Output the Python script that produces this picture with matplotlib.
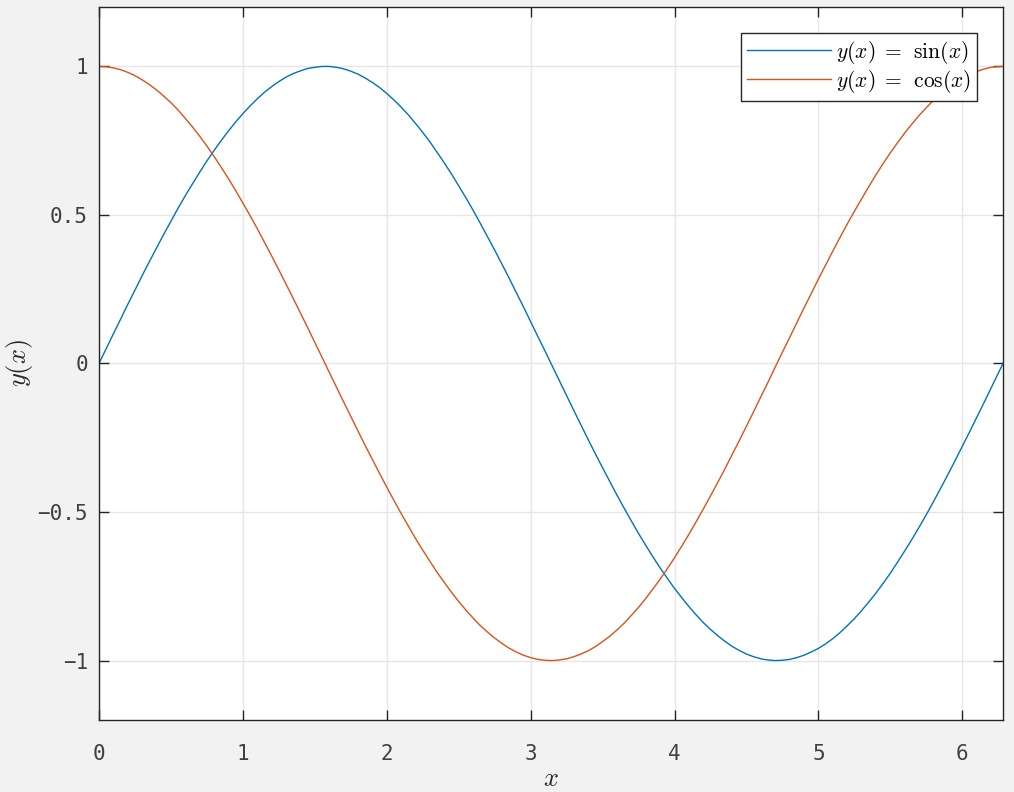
import matplotlib
matplotlib.use("Agg")
import matplotlib.pyplot as plt
from matplotlib.ticker import FixedLocator

x_vals = [0.00, 0.05, 0.10, 0.15, 0.20, 0.25, 0.30, 0.35, 0.40, 0.45,
          0.50, 0.55, 0.60, 0.65, 0.70, 0.75, 0.80, 0.85, 0.90, 0.95,
          1.00, 1.05, 1.10, 1.15, 1.20, 1.25, 1.30, 1.35, 1.40, 1.45,
          1.50, 1.55, 1.60, 1.65, 1.70, 1.75, 1.80, 1.85, 1.90, 1.95,
          2.00, 2.05, 2.10, 2.15, 2.20, 2.25, 2.30, 2.35, 2.40, 2.45,
          2.50, 2.55, 2.60, 2.65, 2.70, 2.75, 2.80, 2.85, 2.90, 2.95,
          3.00, 3.05, 3.10, 3.15, 3.20, 3.25, 3.30, 3.35, 3.40, 3.45,
          3.50, 3.55, 3.60, 3.65, 3.70, 3.75, 3.80, 3.85, 3.90, 3.95,
          4.00, 4.05, 4.10, 4.15, 4.20, 4.25, 4.30, 4.35, 4.40, 4.45,
          4.50, 4.55, 4.60, 4.65, 4.70, 4.75, 4.80, 4.85, 4.90, 4.95,
          5.00, 5.05, 5.10, 5.15, 5.20, 5.25, 5.30, 5.35, 5.40, 5.45,
          5.50, 5.55, 5.60, 5.65, 5.70, 5.75, 5.80, 5.85, 5.90, 5.95,
          6.00, 6.05, 6.10, 6.15, 6.20, 6.25, 6.283]

sin_vals = [0.000, 0.050, 0.100, 0.149, 0.199, 0.247, 0.296, 0.343, 0.389, 0.435,
            0.479, 0.523, 0.565, 0.605, 0.644, 0.682, 0.717, 0.751, 0.783, 0.813,
            0.841, 0.867, 0.891, 0.913, 0.932, 0.949, 0.964, 0.976, 0.985, 0.993,
            0.997, 1.000, 1.000, 0.997, 0.992, 0.984, 0.974, 0.961, 0.946, 0.929,
            0.909, 0.887, 0.863, 0.837, 0.808, 0.778, 0.746, 0.711, 0.675, 0.638,
            0.598, 0.558, 0.516, 0.472, 0.427, 0.382, 0.335, 0.288, 0.239, 0.191,
            0.141, 0.091, 0.042, -0.008, -0.058, -0.108, -0.158, -0.207, -0.256, -0.304,
            -0.351, -0.397, -0.443, -0.487, -0.530, -0.572, -0.612, -0.651, -0.688, -0.723,
            -0.757, -0.788, -0.818, -0.846, -0.872, -0.895, -0.916, -0.935, -0.952, -0.966,
            -0.978, -0.987, -0.994, -0.998, -1.000, -0.999, -0.996, -0.990, -0.982, -0.971,
            -0.959, -0.944, -0.926, -0.906, -0.883, -0.859, -0.832, -0.803, -0.773, -0.740,
            -0.706, -0.669, -0.631, -0.592, -0.551, -0.509, -0.465, -0.420, -0.374, -0.327,
            -0.279, -0.231, -0.182, -0.133, -0.083, -0.033, 0.000]

cos_vals = [1.000, 0.999, 0.995, 0.989, 0.980, 0.969, 0.955, 0.939, 0.921, 0.900,
            0.878, 0.853, 0.825, 0.796, 0.765, 0.732, 0.697, 0.660, 0.622, 0.582,
            0.540, 0.498, 0.454, 0.408, 0.362, 0.315, 0.267, 0.219, 0.170, 0.121,
            0.071, 0.021, -0.029, -0.079, -0.129, -0.178, -0.227, -0.276, -0.323, -0.370,
            -0.416, -0.461, -0.505, -0.547, -0.589, -0.628, -0.666, -0.703, -0.737, -0.770,
            -0.801, -0.830, -0.857, -0.882, -0.904, -0.924, -0.942, -0.958, -0.971, -0.982,
            -0.990, -0.996, -0.999, -1.000, -0.998, -0.994, -0.987, -0.978, -0.967, -0.953,
            -0.936, -0.918, -0.897, -0.874, -0.848, -0.821, -0.791, -0.759, -0.726, -0.691,
            -0.654, -0.615, -0.575, -0.533, -0.490, -0.446, -0.401, -0.355, -0.307, -0.260,
            -0.211, -0.162, -0.112, -0.063, -0.012, 0.038, 0.087, 0.137, 0.187, 0.235,
            0.284, 0.331, 0.378, 0.424, 0.469, 0.512, 0.554, 0.595, 0.635, 0.673,
            0.709, 0.743, 0.776, 0.806, 0.835, 0.861, 0.886, 0.908, 0.927, 0.945,
            0.960, 0.973, 0.983, 0.991, 0.997, 0.999, 1.000]

series_labels = [r"$y(x)\;=\;\,\sin(x)$", r"$y(x)\;=\;\,\cos(x)$"]
x_ticks = [0, 1, 2, 3, 4, 5, 6]
x_tick_labels = ["0", "1", "2", "3", "4", "5", "6"]
y_ticks = [-1, -0.5, 0, 0.5, 1]
y_tick_labels = ["\u22121", "\u22120.5", "0", "0.5", "1"]

plt.rcParams["mathtext.fontset"] = "cm"

fig = plt.figure(figsize=(10.14, 7.92), dpi=100, facecolor="#f2f2f2")
ax = fig.add_axes([99 / 1014, 72 / 792, 904 / 1014, 713 / 792])
ax.set_facecolor("white")

ax.plot(x_vals, sin_vals, color="#0072BD", lw=1.0, label=series_labels[0])
ax.plot(x_vals, cos_vals, color="#D95319", lw=1.0, label=series_labels[1])

ax.set_xlim(0, 6.2832)
ax.set_ylim(-1.2, 1.2)
ax.xaxis.set_major_locator(FixedLocator(x_ticks))
ax.yaxis.set_major_locator(FixedLocator(y_ticks))
ax.set_xticklabels(x_tick_labels, family="DejaVu Sans Mono", fontsize=15, color="#404040")
ax.set_yticklabels(y_tick_labels, family="DejaVu Sans Mono", fontsize=15, color="#404040")

ax.grid(True, color="#e6e6e6", lw=1.0)
ax.set_axisbelow(True)
for s in ax.spines.values():
    s.set_color("#262626")
    s.set_linewidth(1.0)
ax.tick_params(direction="in", length=7, width=1.0, color="#262626",
               top=True, right=True)
ax.tick_params(axis="y", pad=8)
ax.tick_params(axis="x", pad=17)

ax.set_xlabel(r"$x$", fontsize=19, color="#262626", labelpad=2)
ax.set_ylabel(r"$y(x)$", fontsize=19, color="#262626", labelpad=2)

leg = ax.legend(loc="upper right", fontsize=15.5, frameon=True, fancybox=False,
                edgecolor="#262626", framealpha=1.0, borderpad=0.28,
                handlelength=3.9, handletextpad=0.25, labelspacing=0.08,
                borderaxespad=1.2)
leg.get_frame().set_linewidth(1.0)

fig.savefig("out.png", dpi=100, facecolor=fig.get_facecolor())
